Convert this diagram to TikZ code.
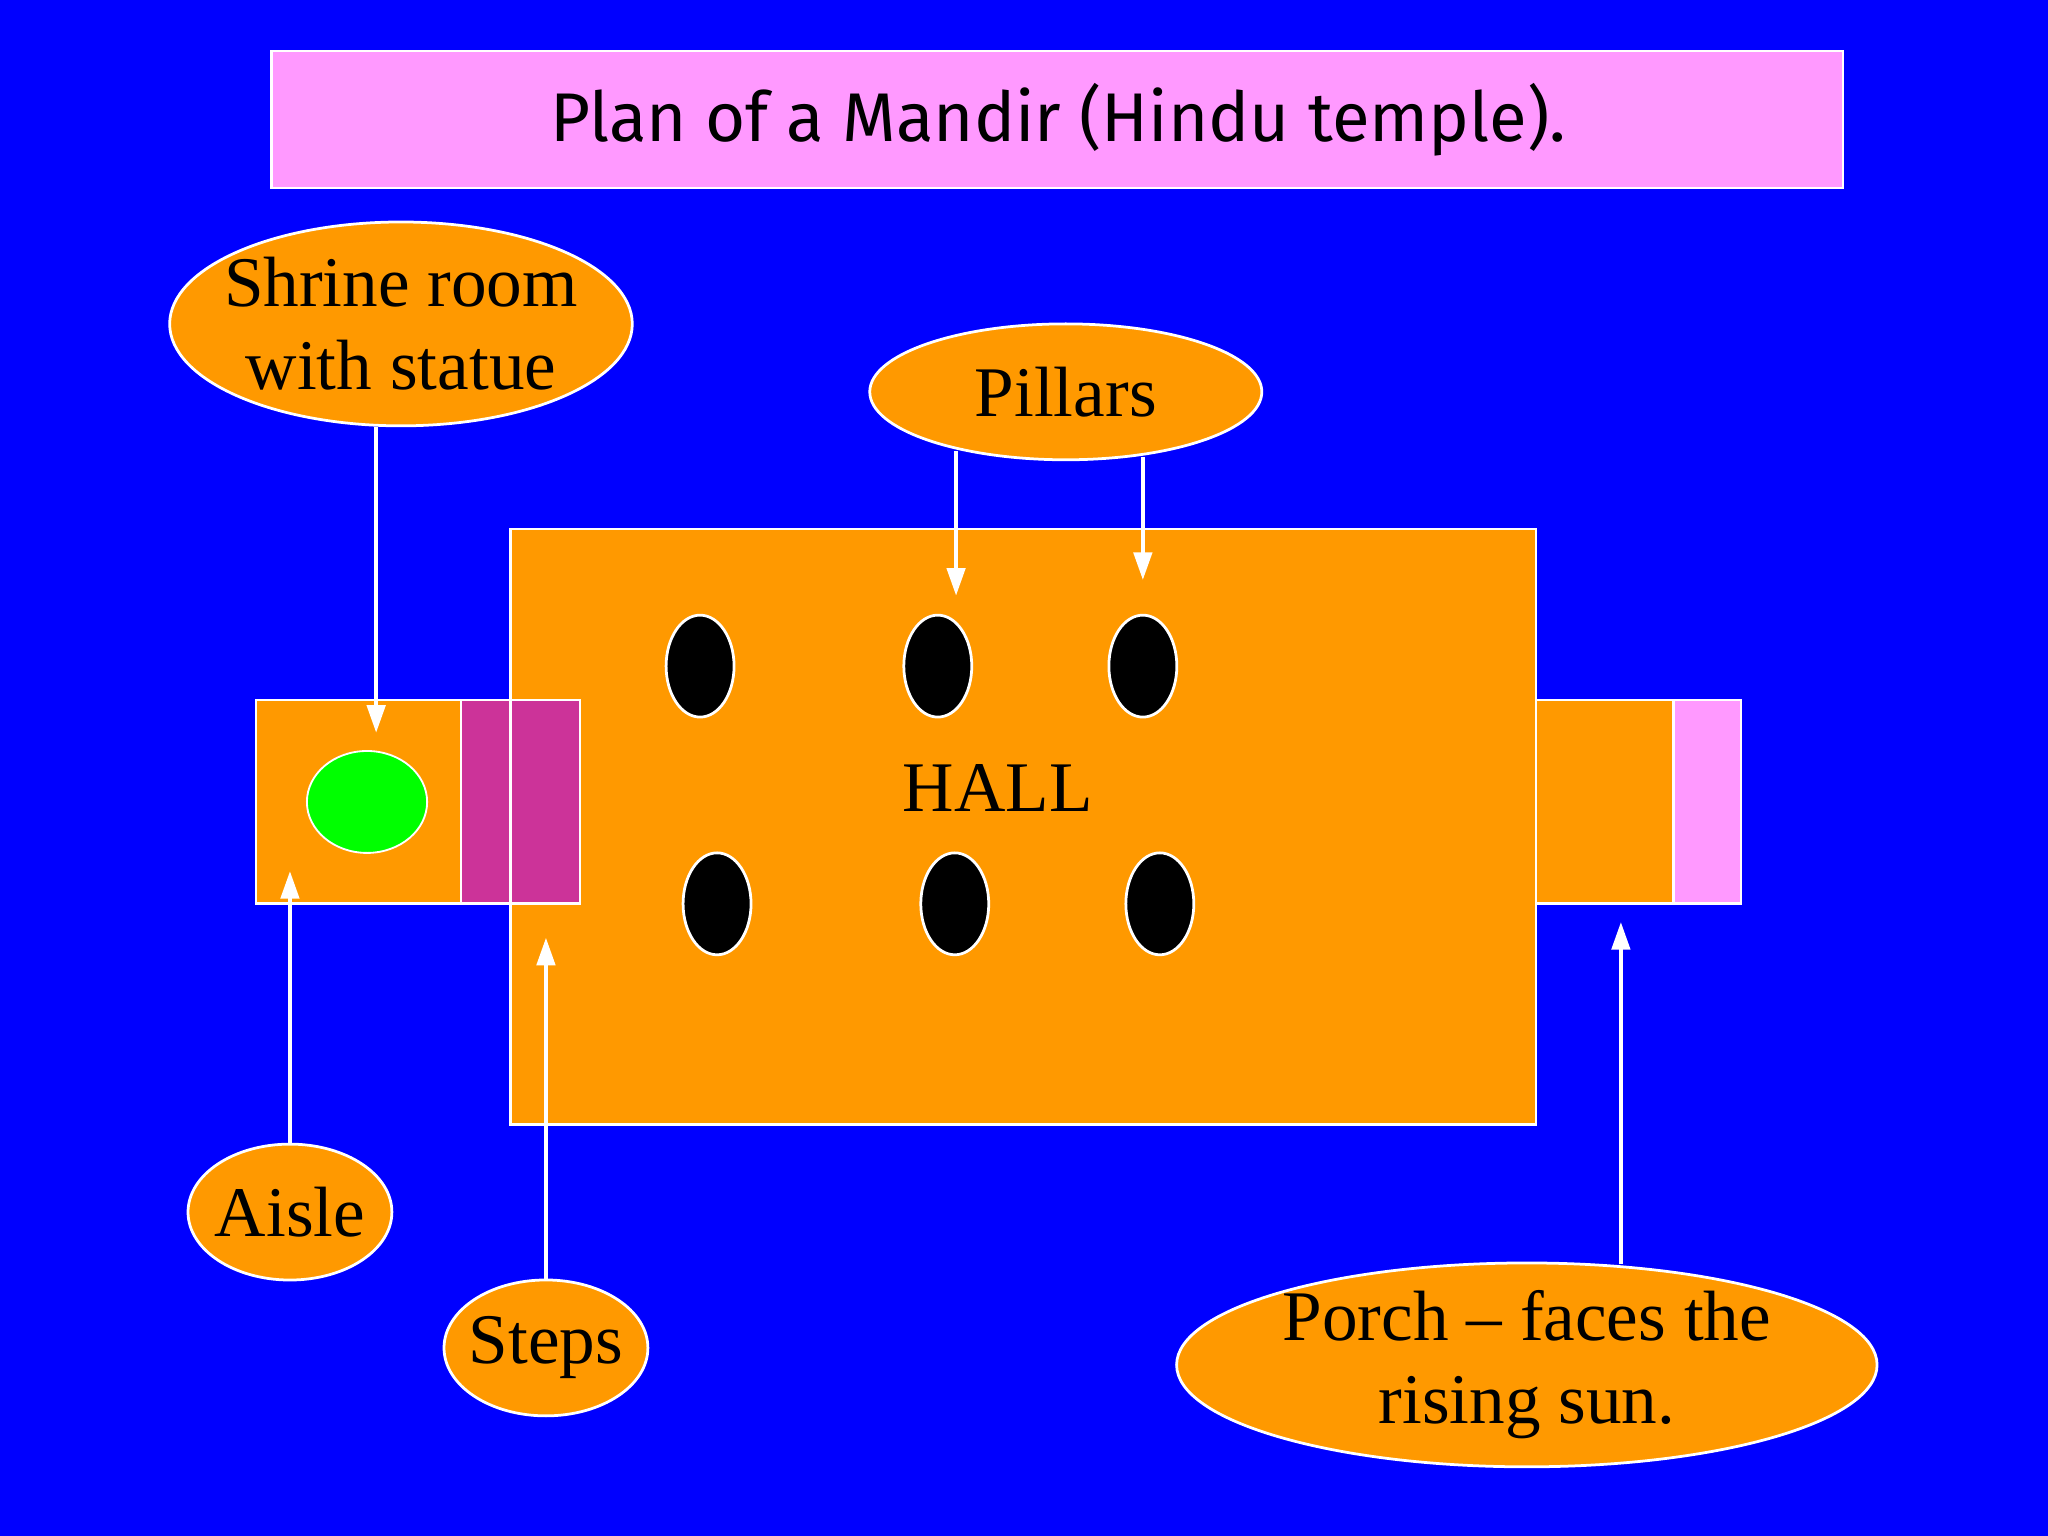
\documentclass[tikz,border=0pt]{standalone}
\usepackage{fontspec}
\setmainfont{Liberation Serif}
\newfontfamily\titlefont{Fira Sans}
\usetikzlibrary{shapes.geometric,arrows.meta}
\definecolor{bg}{HTML}{0000FF}
\definecolor{org}{HTML}{FF9900}
\definecolor{pnk}{HTML}{FF99FF}
\definecolor{mag}{HTML}{CC3399}
\begin{document}
\begin{tikzpicture}[x=0.01cm,y=-0.01cm,
  blk/.style={draw=white,line width=0.6pt},
  lab/.style={ellipse,draw=white,fill=org,line width=0.6pt,inner sep=-8pt,font=\fontsize{15.5}{18}\selectfont,align=center},
  pil/.style={ellipse,draw=white,fill=black,line width=0.6pt,minimum width=0.52cm,minimum height=0.78cm,inner sep=0pt},
  arr/.style={draw=white,line width=0.8pt,-{Triangle[length=6pt,width=4pt]}}]
\fill[bg] (0,0) rectangle (1568,1176);
\useasboundingbox (0,0) rectangle (1568,1176);
\draw[blk,fill=pnk] (208,39) rectangle (1411,144);
\node (title) at (810,92) {\titlefont\fontsize{15}{17}\selectfont Plan of a Mandir (Hindu temple).};
\draw[blk,fill=org] (391,405) rectangle (1176,861);
\draw[blk,fill=org] (196,536) rectangle (353,692);
\draw[blk,fill=mag] (353,536) rectangle (444,692);
\draw[blk] (391,536) -- (391,692);
\draw[blk,fill=org] (1176,536) rectangle (1281,692);
\draw[blk,fill=pnk] (1281,536) rectangle (1333,692);
\node[ellipse,draw=white,fill=green,minimum width=0.92cm,minimum height=0.78cm,inner sep=0pt] (statue) at (281,614) {};
\node[pil] (p1) at (536,510) {};
\node[pil] (p2) at (718,510) {};
\node[pil] (p3) at (875,510) {};
\node[pil] (p4) at (549,692) {};
\node[pil] (p5) at (731,692) {};
\node[pil] (p6) at (888,692) {};
\node[font=\fontsize{15.5}{18}\selectfont] (hall) at (764,603) {HALL};
\node[lab,minimum width=3.54cm,minimum height=1.56cm] (shrine) at (307,248) {Shrine room\\with statue};
\node[lab,minimum width=3.0cm,minimum height=1.04cm] (pillars) at (816,300) {Pillars};
\node[lab,minimum width=1.56cm,minimum height=1.04cm] (aisle) at (222,928) {Aisle};
\node[lab,minimum width=1.56cm,minimum height=1.04cm] (steps) at (418,1032) {Steps};
\node[lab,minimum width=5.36cm,minimum height=1.56cm] (porch) at (1169,1045) {Porch -- faces the\\rising sun.};
\coordinate (a1) at (288,561);
\coordinate (a2) at (732,456);
\coordinate (a3) at (875,444);
\coordinate (a4) at (222,667);
\coordinate (a5) at (418,718);
\coordinate (a6) at (1241,706);
\draw[arr] (shrine.south -| a1) -- (a1);
\draw[arr] (732,345) -- (a2);
\draw[arr] (875,350) -- (a3);
\draw[arr] (aisle.north) -- (a4);
\draw[arr] (steps.north) -- (a5);
\draw[arr] (1241,968) -- (a6);
\end{tikzpicture}
\end{document}
